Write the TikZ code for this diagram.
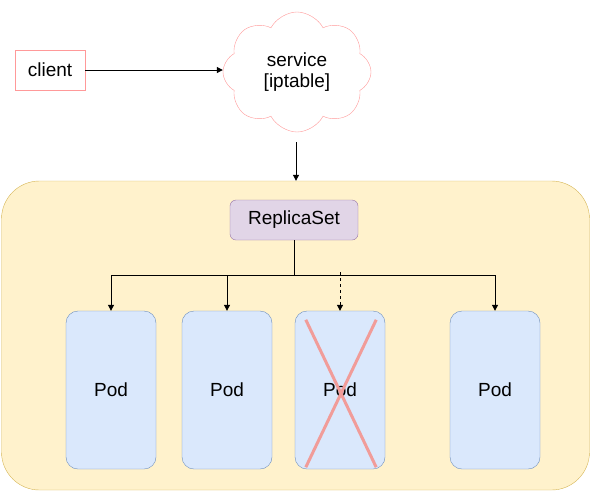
\documentclass[tikz,border=0pt]{standalone}
\usepackage{fontspec}
\setmainfont{Liberation Sans}
\usetikzlibrary{shapes.symbols,arrows.meta}
\definecolor{contfill}{HTML}{FFF2CC}
\definecolor{contdraw}{HTML}{D6B656}
\definecolor{rsfill}{HTML}{E1D5E7}
\definecolor{rsdraw}{HTML}{9673A6}
\definecolor{podfill}{HTML}{DAE8FC}
\definecolor{poddraw}{HTML}{6C8EBF}
\definecolor{pinkline}{HTML}{FF9999}
\definecolor{crossred}{HTML}{F19C99}
\begin{document}
\begin{tikzpicture}[x=1pt,y=-1pt,
  lbl/.style={font=\fontsize{19}{22}\selectfont},
  podbox/.style={draw=poddraw,fill=podfill,rounded corners=12pt,minimum width=90pt,minimum height=158pt,inner sep=0pt,lbl},
  arr/.style={-{Triangle[length=6pt,width=6pt]},line width=1pt},
  ]
\useasboundingbox (0,0) rectangle (591,491);
\node[draw=pinkline,fill=white,minimum width=70pt,minimum height=40pt,inner sep=0pt,lbl] (client) at (50,70) {client};
\node[cloud,draw=pinkline,fill=white,cloud puffs=8,cloud puff arc=125,aspect=1.25,minimum width=148pt,minimum height=120pt,inner sep=0pt,align=center,lbl] (svc) at (297,72) {service\\[-1pt][iptable]};
\draw[arr] (client) -- (svc.west|-client);
\node[draw=contdraw,fill=contfill,rounded corners=38pt,minimum width=588pt,minimum height=309pt,inner sep=0pt] (cont) at (295.5,335.5) {};
\coordinate (svcout) at (296,142);
\draw[arr] (svcout) -- (svcout|-cont.north);
\node[draw=rsdraw,fill=rsfill,rounded corners=6pt,minimum width=128pt,minimum height=40pt,inner sep=0pt,lbl] (rs) at (294,220) {ReplicaSet};
\node[podbox] (p1) at (111,390) {Pod};
\node[podbox] (p2) at (227,390) {Pod};
\node[podbox] (p3) at (340,390) {Pod};
\node[podbox] (p4) at (495,390) {Pod};
\draw[crossred,line width=3pt] ([shift={(11,9)}]p3.north west) -- ([shift={(-9,-2)}]p3.south east);
\draw[crossred,line width=3pt] ([shift={(-9,9)}]p3.north east) -- ([shift={(11,-2)}]p3.south west);
\coordinate (bus) at (294,275);
\draw[line width=1pt] (rs.south) -- (bus);
\draw[line width=1pt] (bus-|p1.north) -- (bus-|p4.north);
\draw[arr] (bus-|p1.north) -- (p1.north);
\draw[arr] (bus-|p2.north) -- (p2.north);
\draw[arr,dashed] ([yshift=3pt]bus-|p3.north) -- (p3.north);
\draw[arr] (bus-|p4.north) -- (p4.north);
\end{tikzpicture}
\end{document}
